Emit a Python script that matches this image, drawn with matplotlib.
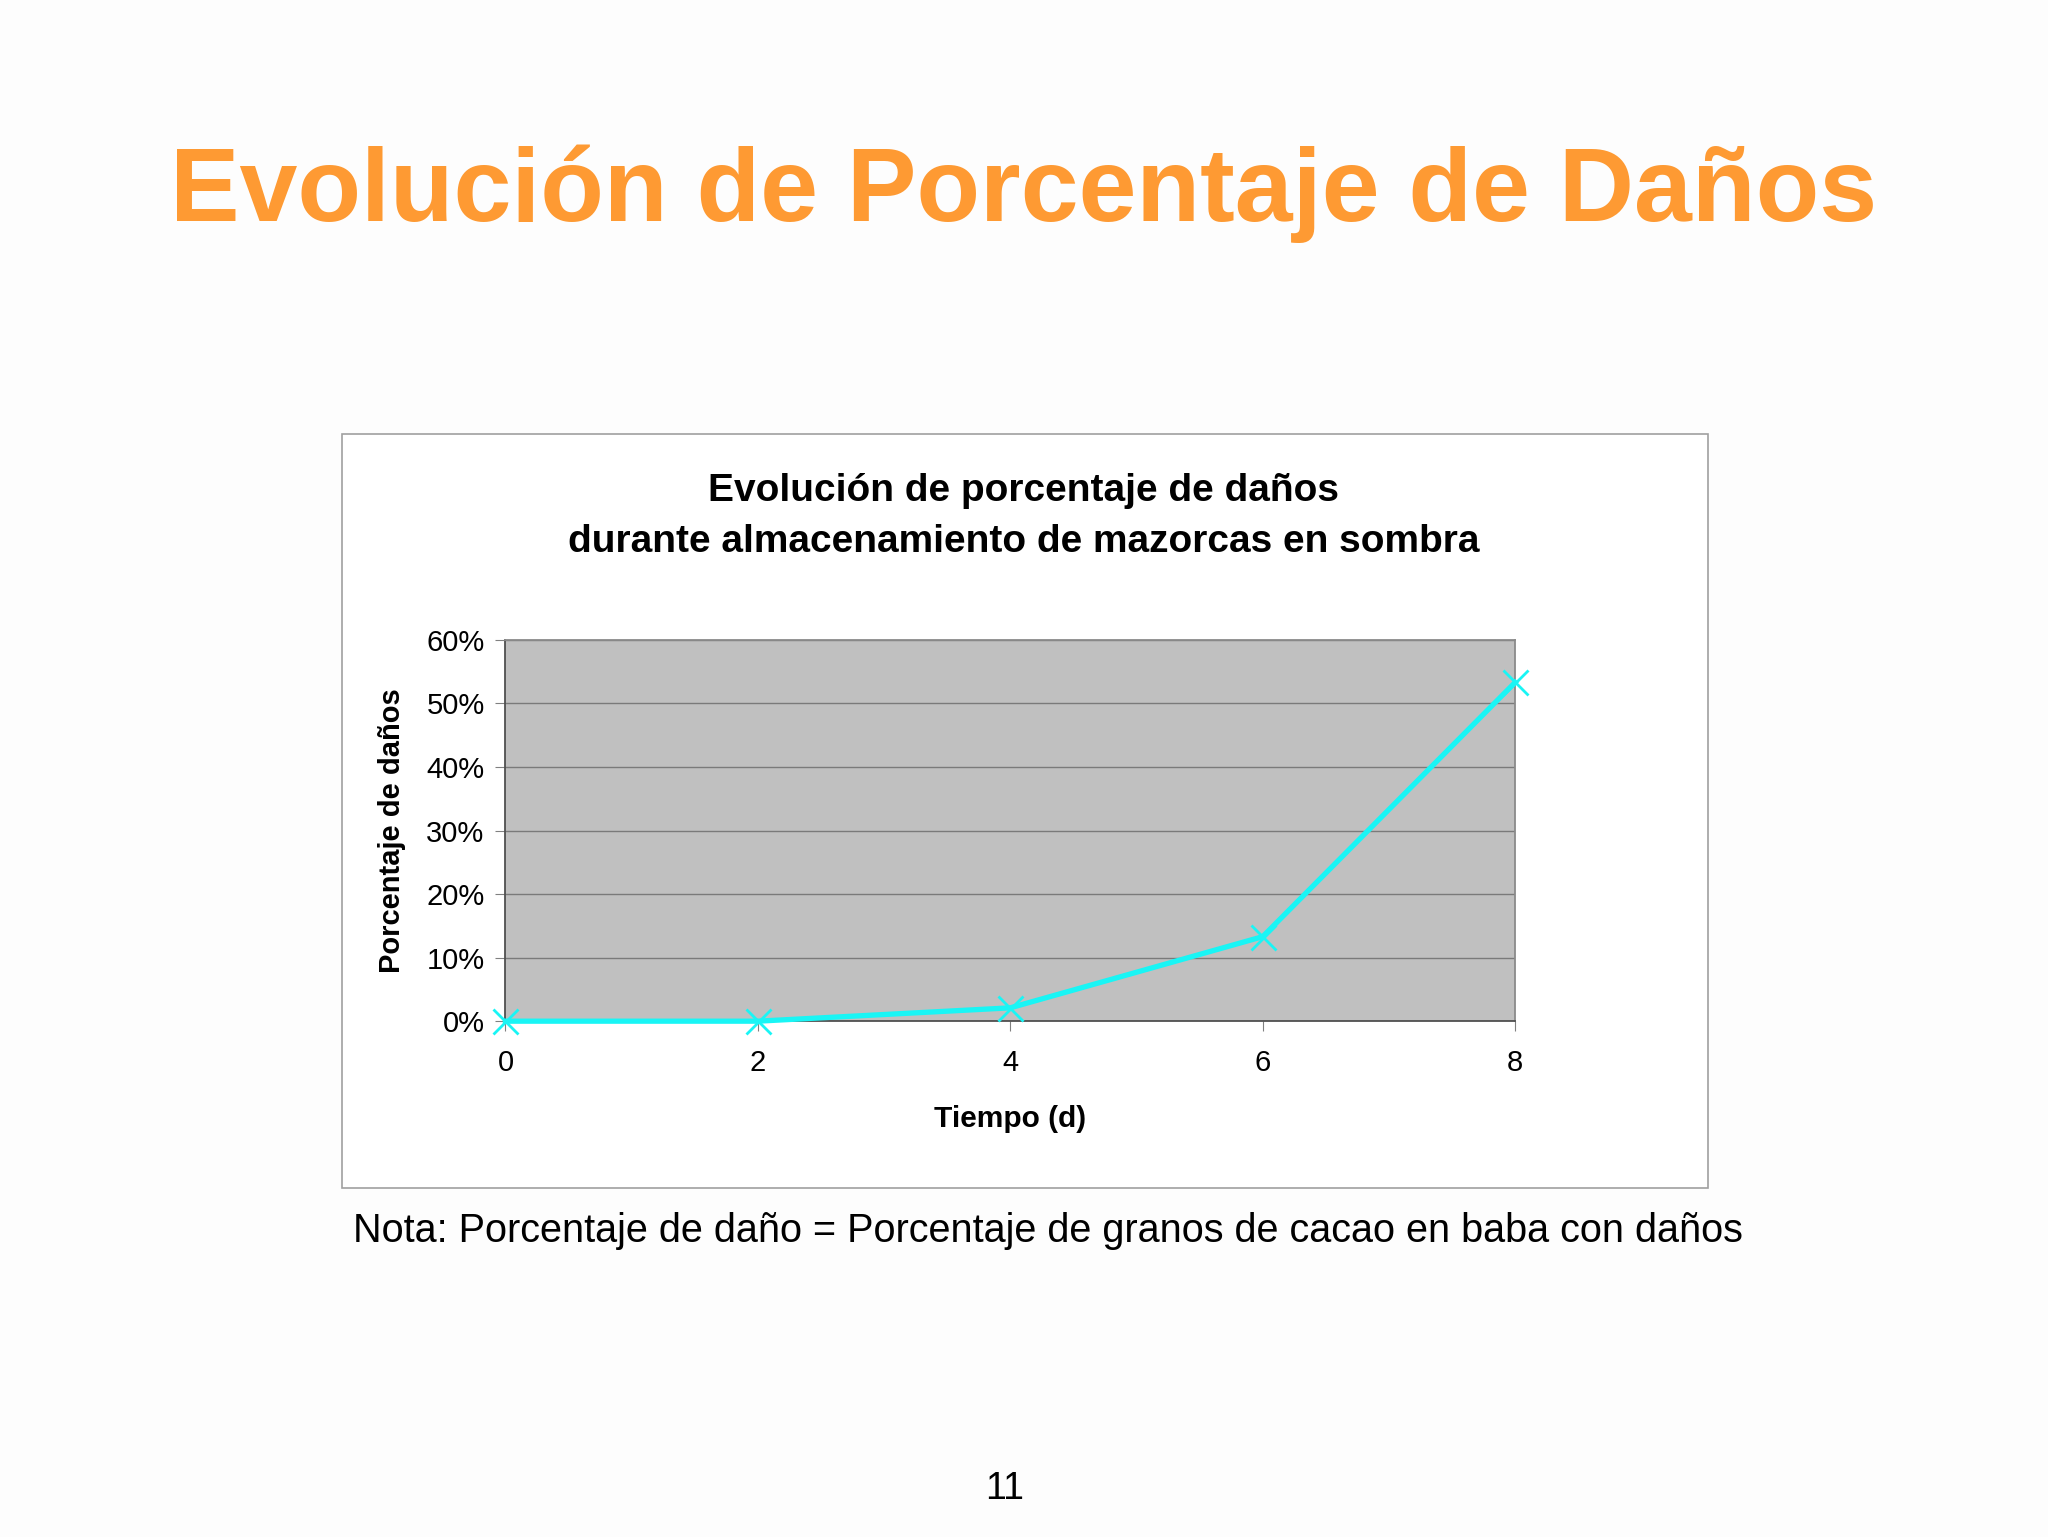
import matplotlib.pyplot as plt
from matplotlib.patches import Rectangle
from matplotlib.ticker import PercentFormatter

# datos
tiempo = [0, 2, 4, 6, 8]
dano = [0.0, 0.0, 0.021, 0.133, 0.533]
y_ticks = [0, 0.1, 0.2, 0.3, 0.4, 0.5, 0.6]

plt.rcParams['font.family'] = ['Liberation Sans', 'DejaVu Sans']

fig = plt.figure(figsize=(20.48, 15.37), dpi=100)
fig.patch.set_facecolor('#fdfdfd')

# marco del grafico
fig.patches.append(Rectangle((0.1671, 0.2268), 0.6671, 0.4911, transform=fig.transFigure,
                             facecolor='white', edgecolor='#a0a0a0', linewidth=1.2, zorder=-1))

fig.text(0.5, 0.874, 'Evolución de Porcentaje de Daños', ha='center', va='center',
         fontsize=75, fontweight='bold', color='#fe9a33')

ax = fig.add_axes([0.2468, 0.3356, 0.4930, 0.2481])
ax.set_facecolor('#c0c0c0')
ax.plot(tiempo, dano, color='#19f5f5', linewidth=3.8, marker='x', markersize=18,
        markeredgewidth=2, clip_on=False, zorder=3)

ax.set_xlim(0, 8)
ax.set_ylim(0, 0.6)
ax.set_xticks(tiempo)
ax.set_yticks(y_ticks)
ax.yaxis.set_major_formatter(PercentFormatter(1.0, decimals=0))
ax.grid(axis='y', color='#7a7a7a', linewidth=1)
ax.set_axisbelow(True)
ax.tick_params(labelsize=21, length=7, color='#808080')
ax.tick_params(axis='x', pad=13)
ax.tick_params(axis='y', pad=8)
for s in ['top', 'right']:
    ax.spines[s].set_color('#8a8a8a')
for s in ['left', 'bottom']:
    ax.spines[s].set_color('#505050')
for s in ax.spines.values():
    s.set_linewidth(1.3)

ax.set_xlabel('Tiempo (d)', fontsize=21.5, fontweight='bold', labelpad=20)
ax.set_ylabel('Porcentaje de daños', fontsize=21, fontweight='bold', labelpad=15)

fig.text(0.5, 0.664, 'Evolución de porcentaje de daños\ndurante almacenamiento de mazorcas en sombra',
         ha='center', va='center', fontsize=28, fontweight='bold', linespacing=1.55)

fig.text(0.5115, 0.199, 'Nota: Porcentaje de daño = Porcentaje de granos de cacao en baba con daños',
         ha='center', va='center', fontsize=28.5)
fig.text(0.4905, 0.031, '11', ha='center', va='center', fontsize=27)

fig.savefig('out.png', dpi=100, facecolor=fig.get_facecolor())
